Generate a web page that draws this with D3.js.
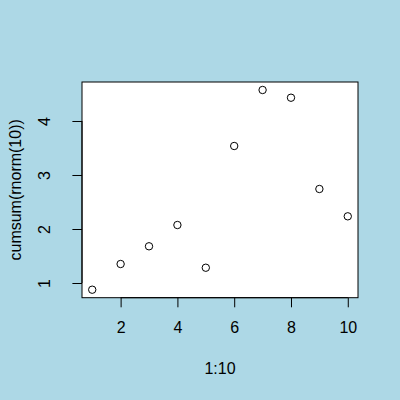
<!DOCTYPE html>
<html><head><meta charset="utf-8">
<script src="https://cdn.jsdelivr.net/npm/d3@7"></script>
<style>html,body{margin:0;padding:0;background:#ADD8E6;}</style>
</head><body>
<script>
const xVals = [1,2,3,4,5,6,7,8,9,10];
const yVals = [0.876,1.352,1.680,2.074,1.283,3.537,4.574,4.431,2.741,2.235];
const xTicks = [2,4,6,8,10];
const yTicks = [1,2,3,4];
const xLabel = "1:10";
const yLabel = "cumsum(rnorm(10))";

const W=400,H=400;
const L=82,R=358,T=82,B=297.7;
const svg=d3.select("body").append("svg").attr("width",W).attr("height",H)
  .style("font-family","'Liberation Sans', Arial, Helvetica, sans-serif");
svg.append("rect").attr("width",W).attr("height",H).attr("fill","#ADD8E6");
svg.append("rect").attr("x",L).attr("y",T).attr("width",R-L).attr("height",B-T).attr("fill","#fff");

function ext(a){const mn=d3.min(a),mx=d3.max(a),p=(mx-mn)*0.04;return [mn-p,mx+p];}
const x=d3.scaleLinear().domain(ext(xVals)).range([L,R]);
const y=d3.scaleLinear().domain(ext(yVals)).range([B,T]);

const xa=svg.append("g").attr("transform",`translate(0,${B})`)
  .call(d3.axisBottom(x).tickValues(xTicks).tickSize(9.6).tickFormat(d3.format("d")));
xa.select(".domain").attr("d",`M${x(xTicks[0])},0H${x(xTicks[xTicks.length-1])}`);
const ya=svg.append("g").attr("transform",`translate(${L},0)`)
  .call(d3.axisLeft(y).tickValues(yTicks).tickSize(9.6).tickFormat(d3.format("d")));
ya.select(".domain").attr("d",`M0,${y(yTicks[0])}V${y(yTicks[yTicks.length-1])}`);
[xa,ya].forEach(g=>{g.selectAll("path,line").attr("stroke","#000").attr("stroke-width",1);
  g.selectAll("text").attr("fill","#000").style("font-size","16px").style("font-family","'Liberation Sans', Arial, sans-serif");});
xa.selectAll("text").attr("dy",null).attr("y",35.5);
ya.selectAll("text").attr("dy",null).attr("transform","rotate(-90)")
  .attr("x",0).attr("y",-32).attr("text-anchor","middle");

svg.append("rect").attr("x",L).attr("y",T).attr("width",R-L).attr("height",B-T)
  .attr("fill","none").attr("stroke","#000").attr("stroke-width",1);

svg.append("g").selectAll("circle").data(xVals).join("circle")
  .attr("cx",(d)=>x(d)).attr("cy",(d,i)=>y(yVals[i])).attr("r",3.7)
  .attr("fill","none").attr("stroke","#000").attr("stroke-width",1);

svg.append("text").attr("x",(L+R)/2).attr("y",374).attr("text-anchor","middle")
  .style("font-size","16px").attr("fill","#000").text(xLabel);
svg.append("text").attr("transform",`translate(21,${(T+B)/2}) rotate(-90)`).attr("text-anchor","middle")
  .style("font-size","16px").attr("fill","#000").text(yLabel);
</script>
</body></html>
